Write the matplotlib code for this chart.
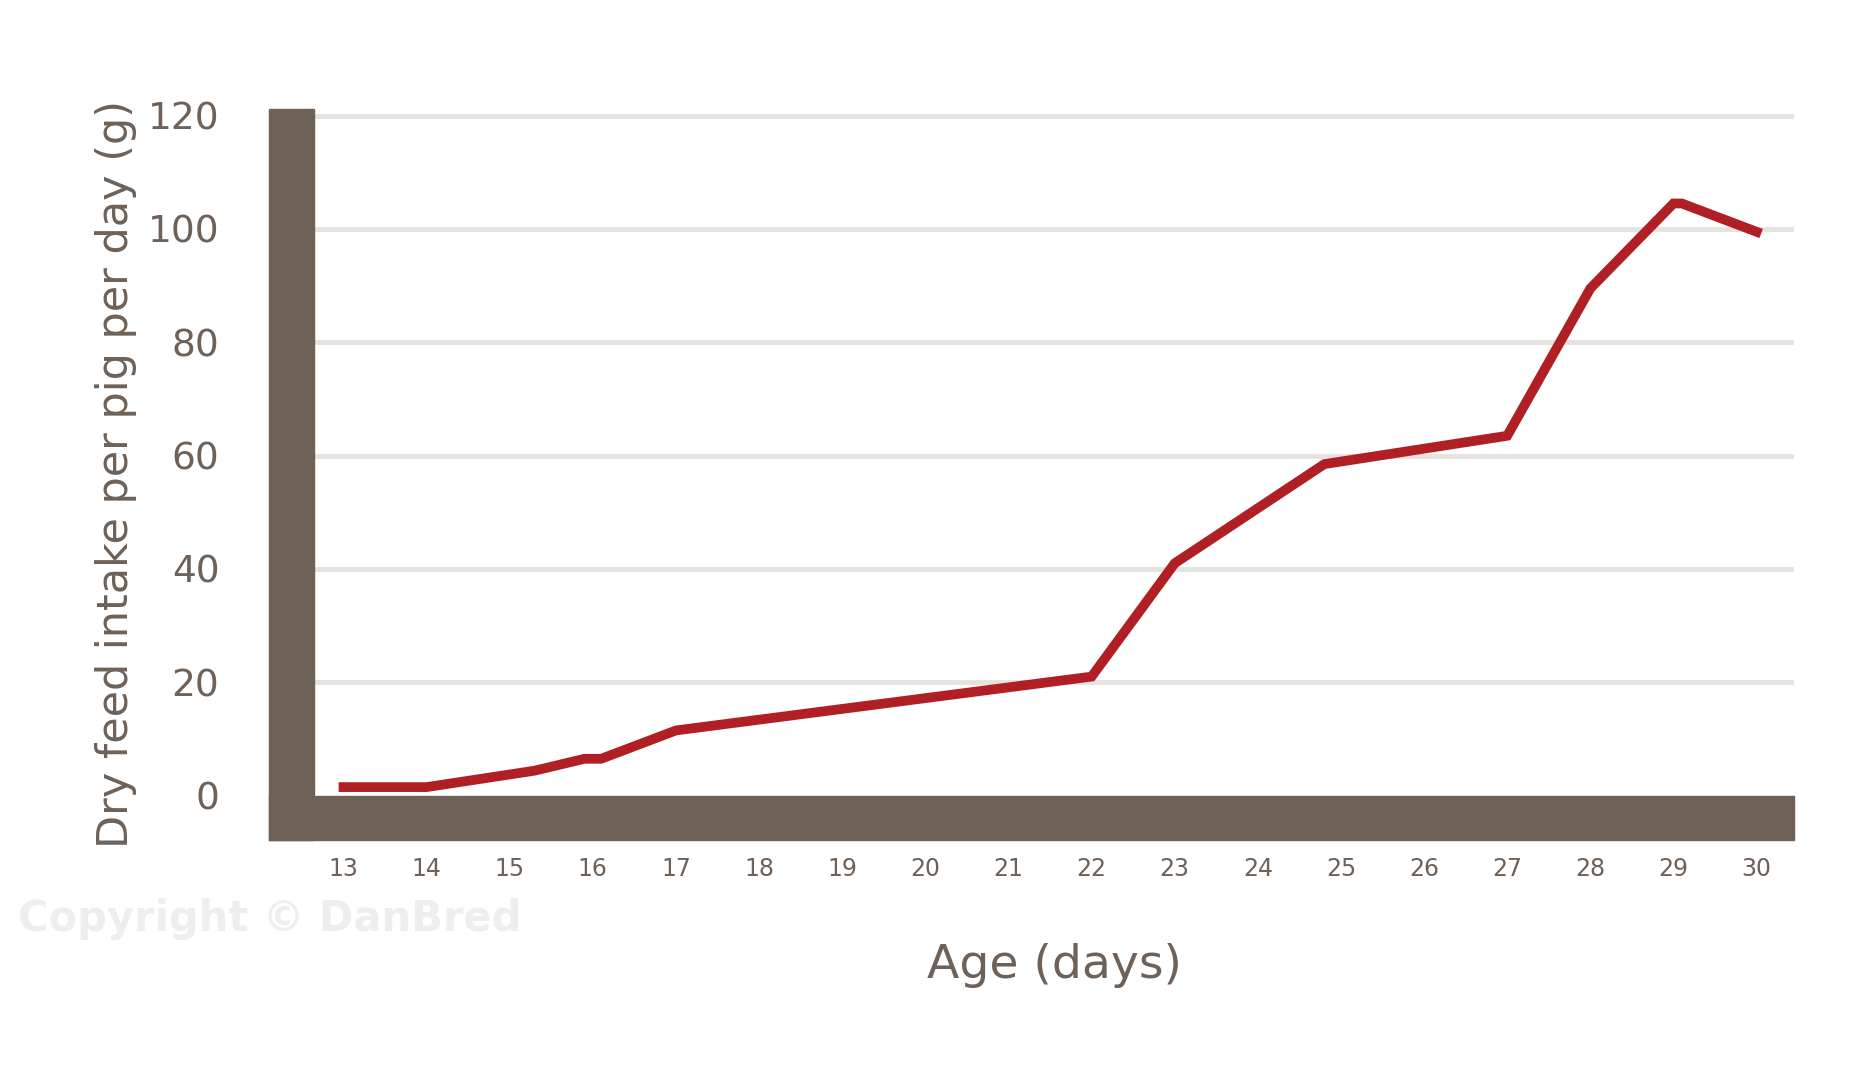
import matplotlib.pyplot as plt
from matplotlib.patches import Rectangle

# data
age_days = [13, 14, 15.3, 15.9, 16.1, 17, 22, 23, 24.8, 27, 28, 28.7, 29, 29.1, 30]
intake_g = [1.5, 1.5, 4.4, 6.5, 6.5, 11.5, 21, 41, 58.5, 63.5, 89.5, 100, 104.5, 104.5, 99.5]
x_ticks = list(range(13, 31))
y_ticks = [0, 20, 40, 60, 80, 100, 120]

W, H = 1550.0, 905.0  # reference layout units
BAR = "#6e6158"
LINE = "#b01f24"
GRID = "#e6e2df"
TXT = "#6e6158"

plt.rcParams['font.family'] = ['Liberation Sans Narrow', 'DejaVu Sans']

fig = plt.figure(figsize=(18.6, 10.86), dpi=100)

# faint watermark text
fig.text(15 / W, 1 - 766 / H, "Copyright © DanBred", fontsize=30, color="#eeeeee",
         fontweight="bold", family=['DejaVu Sans'], va="center", zorder=0)

ax = fig.add_axes([262 / W, 1 - 663 / H, (1495 - 262) / W, (663 - 94) / H])
ax.set_xlim(12.65, 30.45)
ax.set_ylim(0, 120.5)
for v in y_ticks[1:]:
    ax.axhline(v, color=GRID, lw=3.5, zorder=1)
ax.plot(age_days, intake_g, color=LINE, lw=7, solid_joinstyle="miter", zorder=3)

for s in ax.spines.values():
    s.set_visible(False)
ax.set_xticks(x_ticks)
ax.set_xticklabels([str(t) for t in x_ticks])
ax.set_yticks(y_ticks)
ax.tick_params(length=0)
ax.tick_params(axis="x", labelsize=17, colors=TXT, pad=70 * 1086 / H - 40)
ax.tick_params(axis="y", labelsize=27, colors=TXT, pad=(262 - 205) * 1.2)
ax.set_facecolor("none")
ax.set_xlabel("Age (days)", fontsize=34, color=TXT, labelpad=45)

fig.text(97 / W, 1 - 395 / H, "Dry feed intake per pig per day (g)", rotation=90,
         fontsize=31, color=TXT, ha="center", va="center")

# thick axis bars
fig.add_artist(Rectangle((224 / W, 1 - 700 / H), 38 / W, (700 - 91) / H,
                         transform=fig.transFigure, color=BAR, zorder=2))
fig.add_artist(Rectangle((224 / W, 1 - 700 / H), (1495 - 224) / W, 37 / H,
                         transform=fig.transFigure, color=BAR, zorder=2))

fig.savefig("out.png", dpi=100)
